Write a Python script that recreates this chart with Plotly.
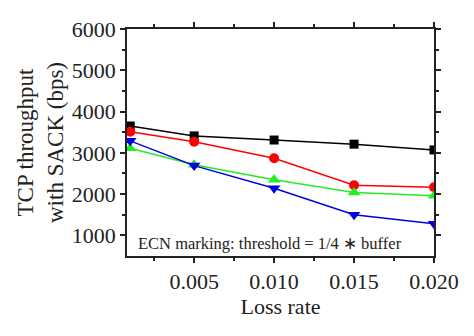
import plotly.graph_objects as go

loss_rate = [0.001, 0.005, 0.010, 0.015, 0.020]
black_sq = [3650, 3410, 3310, 3210, 3070]
red_circ = [3510, 3270, 2870, 2215, 2165]
green_up = [3110, 2710, 2345, 2040, 1960]
blue_down = [3290, 2690, 2140, 1500, 1280]

series = [
    (black_sq, "#000000", "square", 9),
    (red_circ, "#ff0000", "circle", 10),
    (green_up, "#22ee22", "triangle-up", 11),
    (blue_down, "#0000dd", "triangle-down", 11),
]

fig = go.Figure()
for vals, col, sym, sz in series:
    fig.add_trace(go.Scatter(
        x=loss_rate, y=vals, mode="lines+markers",
        line=dict(color=col, width=1.5),
        marker=dict(symbol=sym, size=sz, color=col),
        showlegend=False,
    ))

font = "Liberation Serif, Times New Roman, serif"
fig.update_layout(
    width=474, height=336,
    margin=dict(l=127, r=40, t=29, b=80),
    paper_bgcolor="white", plot_bgcolor="white",
    font=dict(family=font, size=22, color="#222"),
    xaxis=dict(
        range=[0.0008, 0.020], tickvals=[0.005, 0.010, 0.015, 0.020],
        ticktext=["0.005", "0.010", "0.015", "0.020"],
        showline=True, linecolor="#222", linewidth=1.5, mirror="allticks",
        ticks="outside", ticklen=5, tickwidth=1.5, tickcolor="#222",
        minor=dict(tickvals=[0.0025, 0.0075, 0.0125, 0.0175], ticks="outside", ticklen=3, tickcolor="#222"),
        showgrid=False, zeroline=False,
        title=dict(text="Loss rate", font=dict(size=22), standoff=4),
        tickfont=dict(size=22),
    ),
    yaxis=dict(
        range=[500, 6000], tickvals=[1000, 2000, 3000, 4000, 5000, 6000],
        showline=True, linecolor="#222", linewidth=1.5, mirror="allticks",
        ticks="outside", ticklen=5, tickwidth=1.5, tickcolor="#222",
        minor=dict(tickvals=[1500, 2500, 3500, 4500, 5500], ticks="outside", ticklen=3, tickcolor="#222"),
        showgrid=False, zeroline=False,
        title=dict(text="TCP throughput<br>with SACK (bps)", font=dict(size=23), standoff=2),
        tickfont=dict(size=22),
    ),
    annotations=[dict(
        text="ECN marking: threshold = 1/4 ∗ buffer",
        xref="paper", yref="paper", x=0.03, y=0.055,
        xanchor="left", yanchor="middle", showarrow=False,
        font=dict(family=font, size=16.5, color="#222"),
    )],
)

fig.write_html("out.html")
